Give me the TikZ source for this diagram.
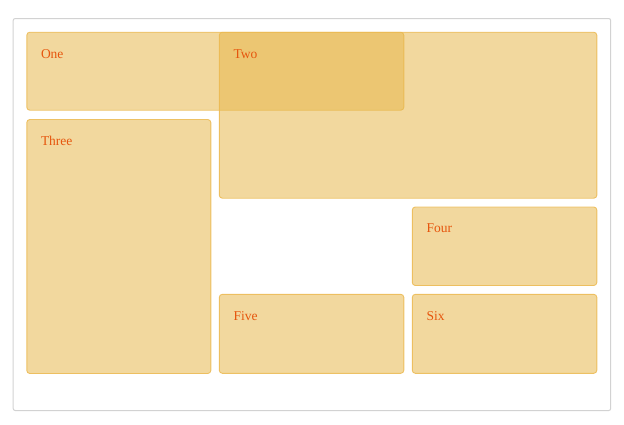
\documentclass[tikz,border=0pt]{standalone}
\usepackage{fontspec}
\setmainfont{Liberation Serif}
\definecolor{boxc}{RGB}{231,184,78}
\definecolor{boxline}{RGB}{236,184,80}
\definecolor{txtc}{RGB}{230,86,14}
\definecolor{framec}{RGB}{210,210,210}
\tikzset{
  panel/.style={rectangle, anchor=north west, inner sep=0pt, outer sep=0pt,
    rounded corners=3pt, fill=boxc, fill opacity=0.55, draw=boxline, draw opacity=0.85, line width=0.9pt},
  lbl/.style={anchor=base west, inner sep=0pt, text=txtc, font=\fontsize{13.5}{16}\selectfont},
}
\begin{document}
\begin{tikzpicture}[x=1pt,y=-1pt]
\useasboundingbox (0,0) rectangle (624,424);
\node[rectangle, anchor=north west, inner sep=0pt, draw=framec, line width=1pt, rounded corners=2pt,
  minimum width=597.5pt, minimum height=392pt] (frame) at (12.7,18) {};
\node[panel, minimum width=377pt, minimum height=78pt] (one) at (26.8,32.2) {};
\node[panel, minimum width=377.5pt, minimum height=166pt] (two) at (219.3,32.2) {};
\node[panel, minimum width=184pt, minimum height=254pt] (three) at (26.8,119.5) {};
\node[panel, minimum width=184.5pt, minimum height=78.5pt] (four) at (412.3,207) {};
\node[panel, minimum width=184.5pt, minimum height=79pt] (five) at (219.3,294.3) {};
\node[panel, minimum width=184.5pt, minimum height=79pt] (six) at (412.3,294.3) {};
\node[lbl] (onet) at ([shift={(14,25.8)}]one.north west) {One};
\node[lbl] (twot) at ([shift={(14,25.8)}]two.north west) {Two};
\node[lbl] (threet) at ([shift={(14,25.8)}]three.north west) {Three};
\node[lbl] (fourt) at ([shift={(14,25.8)}]four.north west) {Four};
\node[lbl] (fivet) at ([shift={(14,25.8)}]five.north west) {Five};
\node[lbl] (sixt) at ([shift={(14,25.8)}]six.north west) {Six};
\end{tikzpicture}
\end{document}
